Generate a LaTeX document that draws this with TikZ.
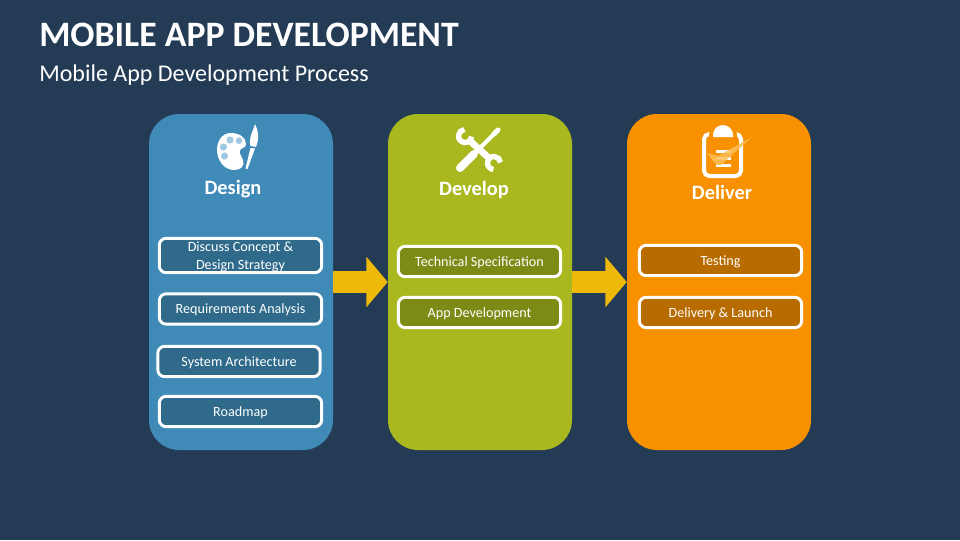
\documentclass[tikz,border=0pt]{standalone}
\usepackage{fontspec}
\setmainfont{Carlito}
\usetikzlibrary{arrows.meta}
\definecolor{pageblue}{RGB}{36,59,85}
\definecolor{designblue}{RGB}{64,138,184}
\definecolor{designdark}{RGB}{47,106,139}
\definecolor{developgreen}{RGB}{169,184,31}
\definecolor{developdark}{RGB}{126,138,22}
\definecolor{deliverorange}{RGB}{248,145,0}
\definecolor{deliverdark}{RGB}{184,108,0}
\definecolor{flowyellow}{RGB}{239,185,10}
\definecolor{dotblue}{RGB}{160,200,225}
\definecolor{tickorange}{RGB}{250,190,90}
\tikzset{
  panelbox/.style={inner sep=0pt,rounded corners=22.5pt,minimum width=138pt,minimum height=252pt},
  itembox/.style={draw=white,line width=2.2pt,rounded corners=5pt,inner sep=0pt,minimum width=121.7pt,minimum height=22.7pt,text=white,align=center,font=\fontsize{10.6}{13.2}\selectfont},
  oneline/.style={text height=8.8pt,text depth=1.6pt},
  headtext/.style={text=white,inner sep=0pt,font=\fontsize{15.3}{17}\selectfont\bfseries},
  flowarrow/.style={draw=flowyellow,line width=16pt,-{Triangle[length=16pt,width=37pt]}},
  toolline/.style={white,line cap=round}
}
\begin{document}
\begin{tikzpicture}[x=0.75pt,y=0.75pt,yscale=-1,xscale=1]
\useasboundingbox (0,0) rectangle (960,540);
\fill [pageblue] (0,0) rectangle (960,540);

% Title
\node (title) [anchor=west,text=white,inner sep=0pt,font=\fontsize{26.8}{32}\selectfont\bfseries] at (39,35) {MOBILE APP DEVELOPMENT};
\node (subtitle) [anchor=west,text=white,inner sep=0pt,font=\fontsize{18}{22}\selectfont] at (39,75) {Mobile App Development Process};

% Panels
\node (design) [panelbox,fill=designblue] at (241,282) {};
\node (develop) [panelbox,fill=developgreen] at (480,282) {};
\node (deliver) [panelbox,fill=deliverorange] at (719,282) {};

% Arrows
\draw [flowarrow] (design.east) -- (develop.west);
\draw [flowarrow] (develop.east) -- (deliver.west);

% Headings
\node (designhead) [headtext] at (233,189) {Design};
\node (develophead) [headtext] at (474,190) {Develop};
\node (deliverhead) [headtext] at (722,192) {Deliver};

% Design items
\node (concept) [itembox,fill=designdark,minimum height=25.7pt] at (240.5,255.5) {\rule{0pt}{9.2pt}Discuss Concept \&\\Design Strategy};
\node (requirements) [itembox,oneline,fill=designdark] at (240.5,309) {Requirements Analysis};
\node (architecture) [itembox,oneline,fill=designdark] at (239,361.5) {System Architecture};
\node (roadmap) [itembox,oneline,fill=designdark] at (240.5,411.5) {Roadmap};

% Develop items
\node (specification) [itembox,oneline,fill=developdark] at (479.5,261.5) {Technical Specification};
\node (appdev) [itembox,oneline,fill=developdark] at (479.5,312.5) {App Development};

% Deliver items
\node (testing) [itembox,oneline,fill=deliverdark] at (720.5,260.5) {Testing};
\node (delivery) [itembox,oneline,fill=deliverdark] at (720.5,312.5) {Delivery \& Launch};

% Palette icon
\fill [white] (231,133) .. controls (222,133) and (217,141) .. (217,150) .. controls (217,160) and (224,170) .. (234,170) .. controls (241,170) and (245,166) .. (243,160) .. controls (241,155) and (238,152) .. (241,149) .. controls (243,147) and (246,148) .. (246,144) .. controls (246,138) and (240,133) .. (231,133) -- cycle;
\fill [dotblue] (230,140) circle (3.6);
\fill [dotblue] (239,140.7) circle (3.3);
\fill [dotblue] (223.5,147) circle (3.6);
\fill [dotblue] (224.5,156) circle (3.6);
\fill [white] (245.5,168.5) -- (250.5,148) -- (255,148.5) -- (247.5,169) -- cycle;
\fill [white] (250.5,146) .. controls (248,138) and (253,132) .. (255,124) .. controls (259,132) and (259,140) .. (256,147) -- cycle;

% Tools icon
\draw [white,line width=5pt] (469,140) -- (490,159);
\draw [white,line width=4pt] (465,136) ++(5:6.5) arc (5:265:6.5);
\draw [white,line width=4pt] (494,163) ++(95:6.5) arc (95:355:6.5);
\draw [white,line width=3pt] (475,153) -- (494,134);
\draw [toolline,line width=3.8pt] (494,134) -- (498,130);
\draw [toolline,line width=6pt] (460,168) -- (474,154);

% Clipboard icon
\draw [white,line width=3pt,rounded corners=4pt] (704,134) rectangle (741,176);
\fill [deliverorange] (709,139) -- (709,136) arc (180:360:14) -- (737,139) -- cycle;
\fill [white] (713,137) -- (713,135) arc (180:360:10) -- (733,137) -- cycle;
\fill [white] (716,150) rectangle (731,153);
\fill [white] (716,157) rectangle (731,160);
\fill [white] (716,164) rectangle (731,167);
\fill [tickorange,opacity=0.85] (707,153) -- (718,156) -- (752,137) -- (721,165) -- (716,165) -- cycle;
\end{tikzpicture}
\end{document}
